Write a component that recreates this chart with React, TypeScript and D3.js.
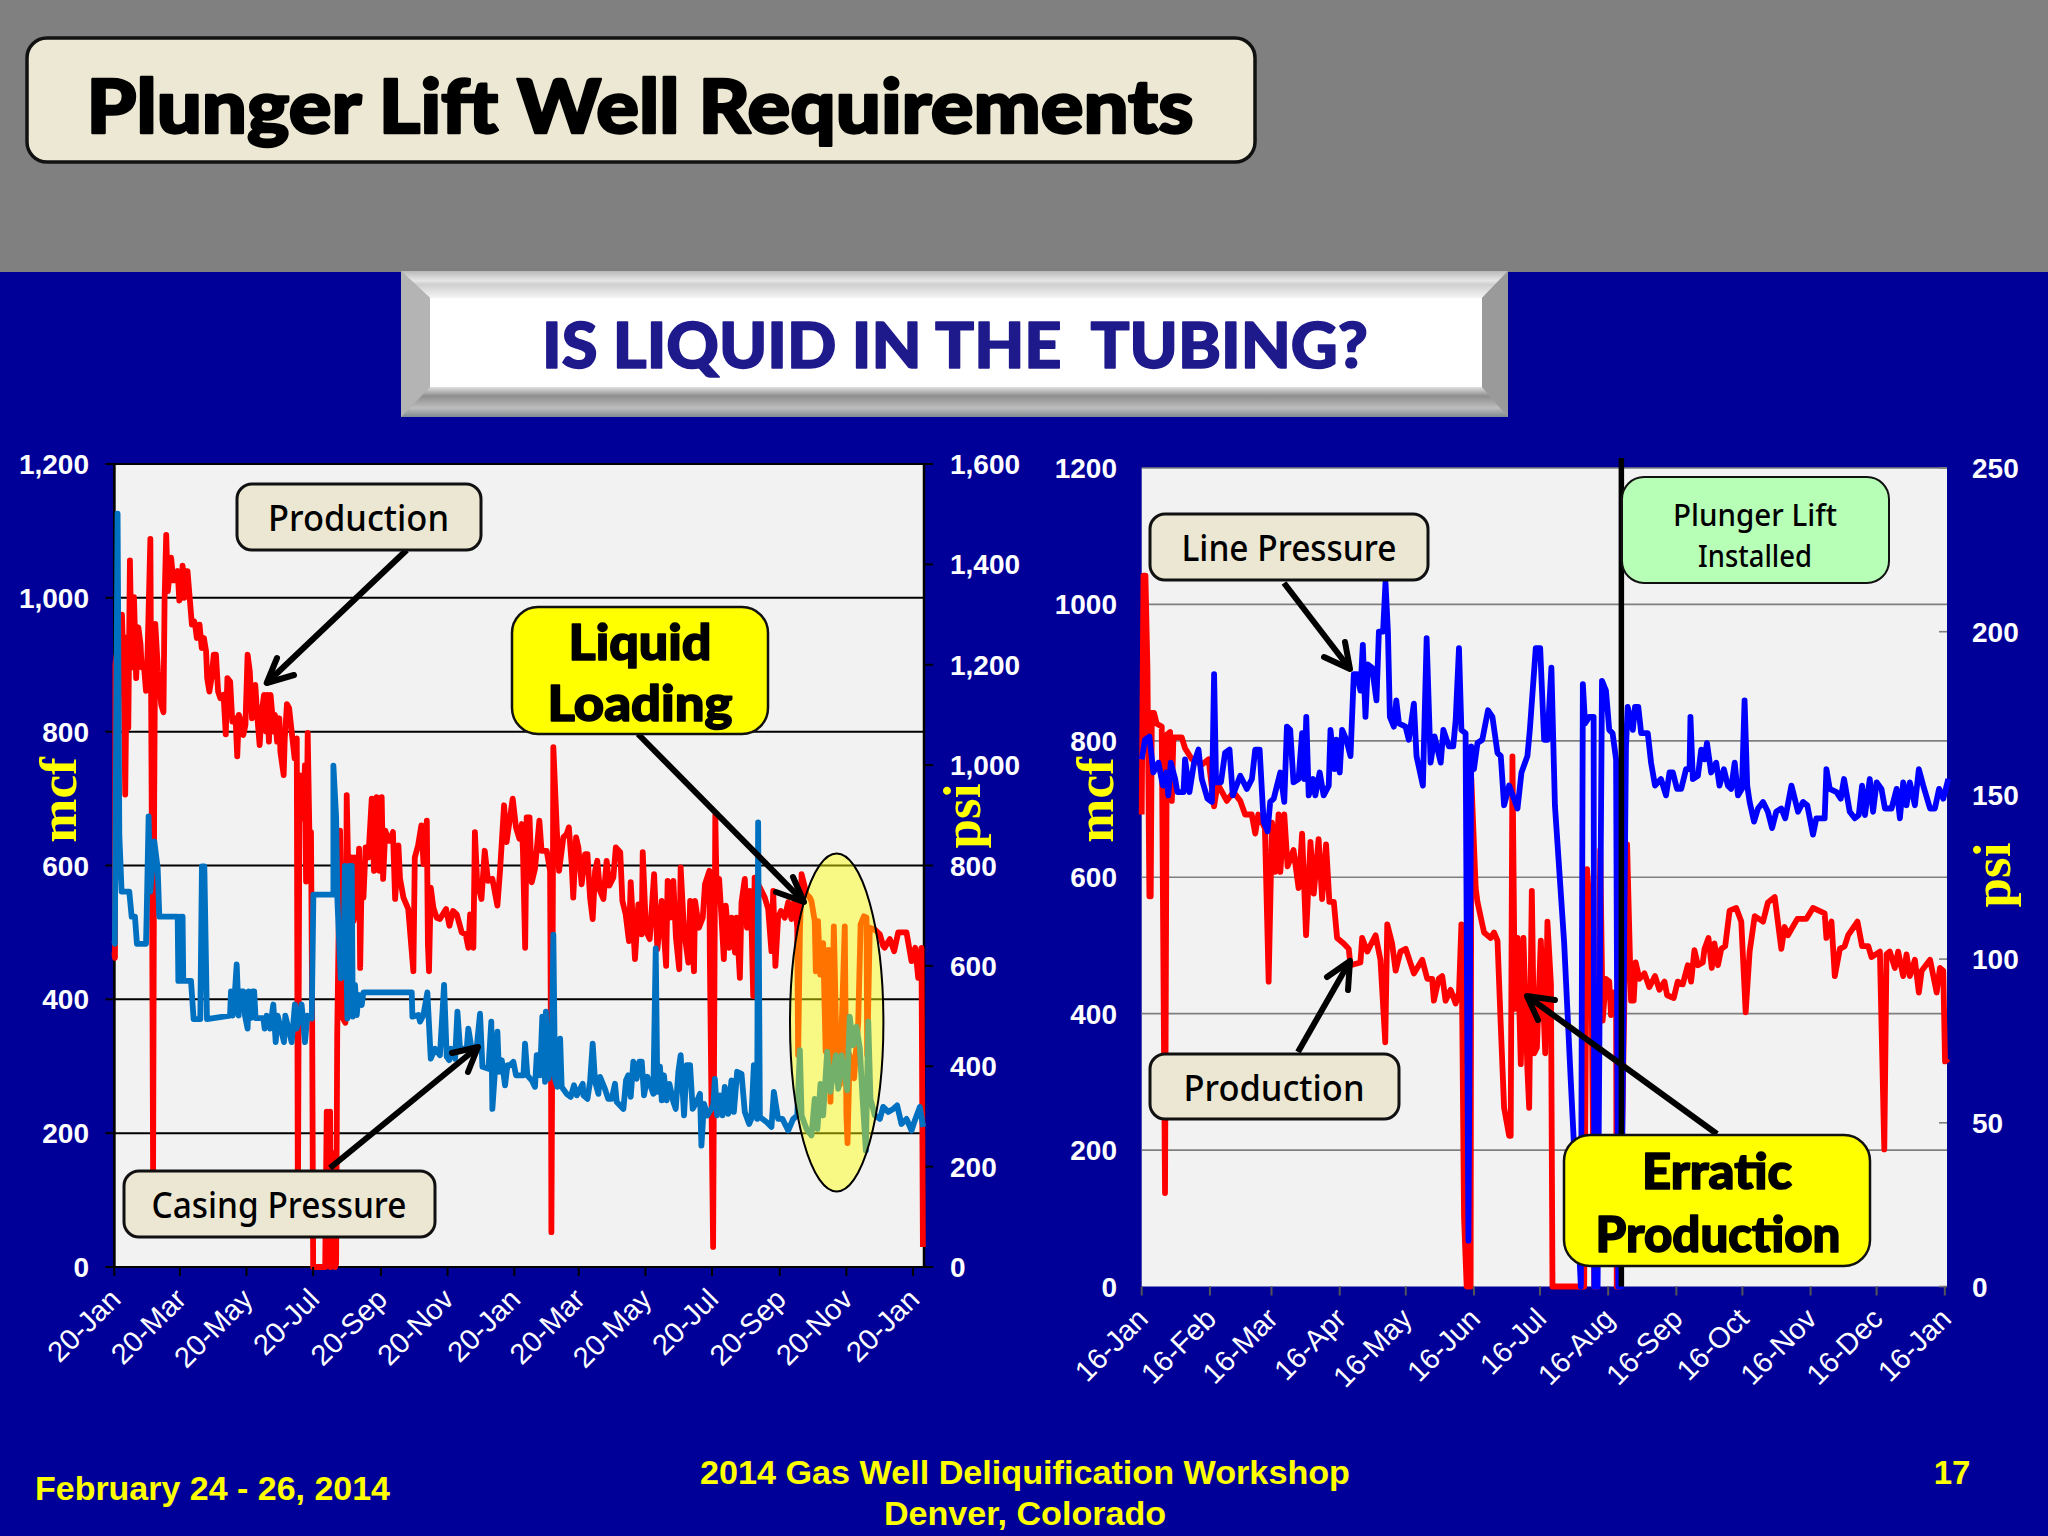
import React from "react";
import * as d3 from "d3";

type P = [number, number];

// ---- LEFT CHART DATA: [days since 20-Jan, value] ----
const leftStart = "2012-01-20";
const leftTickDates = ["2012-01-20","2012-03-20","2012-05-20","2012-07-20","2012-09-20","2012-11-20","2013-01-20","2013-03-20","2013-05-20","2013-07-20","2013-09-20","2013-11-20","2014-01-20"];
const leftMcfTicks = [0,200,400,600,800,1000,1200];
const leftPsiTicks = [0,200,400,600,800,1000,1200,1400,1600];

const leftProduction: P[] = [[0,470],[0.6,462],[1,900],[7,975],[8.5,896],[10,706],[11.6,941],[12.8,806],[14.3,1056],[16,896],[18,1001],[20,880],[22,956],[24,931],[25,896],[27,901],[29,861],[30.5,921],[33,1088],[34.5,600],[35.5,140],[36.5,700],[37.5,961],[40,890],[43,840],[45,829],[46,996],[47.5,1094],[49,1010],[52,1060],[54,1026],[56,1026],[58,1040],[59.5,996],[61,1000],[62.5,1048],[64,1000],[65.5,1040],[67,1040],[69,1000],[71,960],[73,965],[74,960],[75.5,940],[78,960],[80,925],[82,940],[84,920],[85,880],[87,860],[89,880],[91,915],[93,915],[95,860],[97,850],[100,855],[102,796],[103.5,880],[106,875],[108,815],[111,820],[112.5,763],[114,825],[117,810],[118,795],[120,810],[122,915],[124,890],[126,820],[129,870],[131,820],[133,780],[135,830],[137,855],[139,800],[140,855],[141.5,785],[143,855],[146,800],[147,825],[149,785],[151,820],[152,770],[155,735],[156,790],[158,841],[160,835],[163,790],[165,760],[167,790],[168,70],[169.5,735],[171.5,700],[172.5,670],[174.5,750],[175.5,576],[177,798],[178.5,652],[180,650],[181,400],[182,0],[193,0],[194.4,232],[196,150],[197.5,232],[198,0],[200.5,170],[202,0],[203,5],[204,347],[206.6,652],[209,372],[211.5,365],[212.7,705],[215,522],[217,612],[219,517],[220,612],[222,522],[224,625],[225,447],[226.5,597],[228,552],[230,627],[232.5,612],[235.6,700],[237.7,592],[240,702],[242.6,592],[244.7,702],[246,580],[248,652],[251,637],[252.4,637],[255,650],[257,550],[260,630],[261.5,580],[264.6,552],[269,535],[273.7,442],[275,612],[278,630],[281,660],[283,602],[286,667],[287,482],[288,442],[289.6,567],[292,537],[295,522],[298,520],[303.6,535],[306.7,510],[310,532],[313.4,527],[318,500],[321.6,497],[324,477],[325.6,527],[328.6,477],[330,650],[332,577],[336,550],[339,622],[342,577],[346,580],[350.6,540],[353,592],[356.7,690],[359,635],[364.6,700],[367.6,657],[370.7,640],[373,662],[374,620],[376,477],[377.4,672],[380,672],[382,575],[385,595],[389,667],[391,622],[395.7,622],[398.8,592],[399.7,300],[400,52],[401,400],[401.8,777],[405,652],[407,592],[411,642],[414,647],[416,657],[418.6,602],[420,552],[422.6,642],[424.7,627],[427.7,572],[430.8,617],[433,617],[435.4,552],[437.8,520],[440,592],[442,607],[444.5,562],[447.6,550],[450.6,607],[453,570],[456.7,582],[459,627],[463,620],[465,547],[468,527],[471,487],[472.6,575],[476.5,460],[479.6,542],[482.6,497],[483.6,620],[486.6,502],[490,490],[494,587],[497,475],[501,547],[505,450],[506.4,577],[508.6,522],[511.6,577],[514,492],[517,445],[518.3,597],[521.4,502],[525.4,455],[527,547],[530.5,442],[531.5,547],[535,507],[538.5,522],[540.6,572],[544.6,592],[545,467],[548,30],[550,675],[551,582],[553.5,580],[555.7,522],[557.8,460],[559.6,540],[562.7,477],[565,522],[568,470],[569.4,522],[572.5,432],[574,545],[577,580],[579,507],[581.6,562],[583,522],[584.7,405],[586,582],[590.8,567],[595.3,552],[598.4,535],[601.4,472],[603,562],[605,450],[607.5,522],[610,532],[613.6,522],[616.7,545],[619.7,520],[622.8,552],[625,507],[625.8,317],[627.4,497],[629,587],[633.5,557],[636.5,552],[638,547],[641,517],[642,442],[644,517],[646,437],[648.7,484],[651,322],[653.6,474],[655.4,247],[658.5,509],[661,317],[664,272],[668.5,509],[670,227],[671,185],[673,317],[677,282],[680.8,367],[683,512],[686,524],[688.4,522],[689,317],[691.4,507],[696,504],[700.6,497],[703.6,480],[705,477],[709.7,490],[713.7,472],[717.4,500],[725,500],[729.6,457],[733,477],[735.7,432],[738.7,477],[740,30]];

const leftCasing: P[] = [[0,650],[0.5,644],[3,1501],[4.6,861],[6.7,748],[13.7,748],[15.9,698],[18.9,698],[20.7,644],[29,644],[29.6,698],[31.4,898],[33,748],[36.6,848],[39.7,795],[41.2,698],[58,698],[58.6,570],[60.4,698],[61,570],[62.5,698],[63.1,570],[70.2,570],[72.6,494],[78.7,494],[80.2,798],[82.4,798],[84.8,494],[105.9,501],[106.8,549],[108.3,501],[110.4,549],[112,603],[113.8,501],[115,549],[118,549],[119.6,501],[122,475],[123,549],[124.8,496],[126.6,549],[128,549],[129.3,496],[136.4,496],[137.6,475],[139.4,501],[142.5,475],[145.5,523],[147.7,448],[149.5,501],[155.3,448],[156.5,501],[162.3,448],[165.3,523],[166.8,475],[171.4,523],[174.5,448],[176.6,501],[180.7,495],[182.2,742],[200.5,742],[200.5,999],[203,896],[204.2,729],[207.2,575],[209.7,582],[211,799],[213.3,495],[215,799],[217.3,799],[218.2,499],[220.3,562],[221.9,502],[223.4,542],[226.4,522],[228,547],[272.2,547],[272.8,499],[278.3,502],[279.8,489],[282.9,502],[286.5,547],[289.6,415],[293.5,435],[298,422],[301.8,562],[304.2,419],[306.4,412],[307.9,435],[311.9,415],[314,509],[316.4,435],[322.5,435],[324,475],[327,435],[331.7,439],[334.7,505],[336.9,399],[342.4,395],[345,489],[346,315],[348.5,395],[350.6,469],[352,389],[354.6,412],[357.6,362],[359.8,402],[362,402],[365.2,409],[367.6,382],[374.4,382],[375.9,445],[378,382],[382,372],[385,359],[386.6,422],[388,422],[389.6,382],[391.7,499],[394.2,369],[395,509],[397.2,375],[400.3,402],[401.8,662],[403.3,375],[405.5,359],[408,455],[409.4,359],[414,345],[417.7,339],[420.7,362],[423.2,342],[428.7,365],[429.3,342],[433,335],[435.4,369],[437.8,445],[440,369],[443,345],[444.5,379],[449,355],[452,335],[455.2,335],[458.2,365],[459.8,329],[465.9,315],[468.3,372],[470.4,382],[472.6,339],[475,409],[478,375],[480.5,409],[482.7,409],[484.8,342],[487.8,379],[493.3,345],[495.5,635],[497,349],[499.4,399],[501,332],[503,382],[505.5,332],[508,365],[511.6,329],[513.8,315],[516.2,389],[518.3,422],[521.4,302],[523.8,402],[526.9,402],[529.3,315],[533,329],[536,345],[537.3,242],[539.7,325],[542.7,302],[548.2,322],[549.6,375],[551.7,302],[554.2,342],[556.6,302],[558.7,359],[561.8,305],[564.8,372],[567,309],[570,389],[574,385],[577,309],[581,285],[583,295],[585.3,402],[588.3,295],[589.2,886],[590.8,299],[596.9,289],[601.4,279],[603.6,349],[607.5,295],[611.5,295],[616.7,272],[621.3,295],[625,302],[627.4,432],[629,302],[633.5,275],[638,262],[641,335],[643.5,275],[646.3,365],[648.7,302],[652.4,429],[655.4,349],[660.3,422],[662.5,355],[665.5,422],[670.7,352],[673,499],[676.2,442],[679.2,479],[682.3,435],[684.7,339],[687.8,232],[690,489],[692,335],[696,302],[700.6,295],[703.6,319],[708.2,309],[712.8,315],[716.4,322],[720.4,285],[725,295],[729.6,272],[732.6,292],[737.2,319],[740.2,279]];

// ---- RIGHT CHART DATA ----
const rightStart = "2013-01-16";
const rightTickDates = ["2013-01-16","2013-02-16","2013-03-16","2013-04-16","2013-05-16","2013-06-16","2013-07-16","2013-08-16","2013-09-16","2013-10-16","2013-11-16","2013-12-16","2014-01-16"];
const rightMcfTicks = [0,200,400,600,800,1000,1200];
const rightPsiTicks = [0,50,100,150,200,250];
const plungerInstallDay = 218;

const rightProduction: P[] = [[0,692],[0.8,1042],[1.7,1042],[2.6,906],[3.5,572],[4.1,572],[4.6,841],[5.6,841],[6.8,825],[9.1,821],[10.6,137],[11.4,809],[12.9,813],[13.7,712],[14.4,805],[18.2,805],[19.7,789],[22.8,773],[27.3,765],[30.4,773],[32.9,704],[34.5,737],[38.7,712],[41.7,725],[44.8,712],[47,692],[50,692],[51.6,664],[53,692],[56,672],[57.7,447],[59.2,680],[60.7,608],[62.2,692],[63,608],[64.8,692],[66.3,616],[69,640],[71.3,584],[72.9,664],[74.7,515],[76.7,652],[78.2,576],[80.4,656],[82,568],[83.8,648],[85.3,564],[87.3,564],[88.8,511],[91.8,503],[94.1,495],[94.9,471],[99.4,475],[100.2,511],[102.5,491],[106.3,515],[108.5,479],[110.7,358],[111.6,531],[113.8,503],[115.4,463],[117.6,491],[120,495],[123.7,459],[127.5,479],[129.8,451],[132,451],[132.8,419],[135,451],[136.6,455],[138.1,419],[140.4,435],[142.7,415],[144.2,431],[145.3,531],[146.5,101],[147.7,0],[149.5,0],[149.8,745],[151.8,584],[152.6,564],[155.6,519],[158.6,511],[160.1,519],[161.7,507],[163.2,382],[164.7,262],[167,221],[167.7,221],[168.5,777],[169.6,407],[170.8,511],[172.3,326],[173.5,511],[175.3,318],[176.1,262],[177.3,580],[178.4,342],[179.6,350],[181.4,507],[183.4,342],[184.4,535],[186,443],[186.7,0],[198.1,0],[201.1,0],[202.4,612],[203.4,567],[204.5,423],[205.7,0],[206.5,0],[208.4,640],[209.5,390],[211,451],[212.5,447],[213.3,398],[214.5,431],[215.6,423],[215.9,0],[217.1,0],[220.6,648],[222.4,419],[223.6,419],[224.5,475],[226.2,451],[228.5,459],[230.7,439],[233.3,455],[235.3,435],[237.6,447],[238.8,427],[241.8,423],[243.6,447],[245.9,443],[248.2,471],[249.7,447],[251.2,493],[252.8,471],[255,475],[255.8,495],[257.6,511],[259.1,467],[260.3,503],[261.9,471],[263.4,495],[265.2,499],[267.2,551],[270.2,555],[272.5,535],[274.5,402],[276.3,491],[278.6,543],[282.4,535],[284.6,563],[287.7,571],[290.7,495],[292.2,527],[293.7,515],[298,539],[302.1,539],[305.1,555],[310.4,547],[311.2,511],[313.5,535],[315,455],[317.3,495],[319.5,499],[321.1,515],[325.3,535],[327.4,499],[330.2,499],[331.7,483],[335.5,491],[337.5,201],[338.5,487],[340,491],[342.3,467],[343.8,491],[346.1,455],[347.6,487],[349.1,455],[351.4,479],[353.2,431],[354.5,463],[358.3,479],[361.3,431],[362.8,467],[364.3,463],[365.1,330],[366.6,334]];

const rightLinePressure: P[] = [[0,161],[1.5,167],[3.5,168],[5.3,157],[7.6,160],[9.6,153],[11.1,157],[12.1,150],[13.2,160],[15.2,155],[16.2,151],[19,151],[19.7,161],[21.7,151],[23.8,160],[25.8,164],[27.3,155],[29.9,149],[31.9,148],[32.9,187],[33.8,154],[36,154],[37.9,163],[39.9,164],[41.4,150],[44.8,156],[47.8,152],[50.1,155],[51.6,164],[53.6,164],[55.4,142],[57.2,139],[58.4,148],[60,149],[61.5,153],[63,157],[64.8,148],[66,171],[67.5,170],[69,154],[71.3,155],[72.9,169],[73.9,155],[74.8,174],[75.9,150],[77.9,155],[78.9,150],[80.9,157],[82.7,150],[85,153],[85.8,170],[87.6,158],[88.5,167],[90,157],[91.1,170],[93,167],[94.9,162],[96.4,187],[97.9,187],[99.4,182],[100.5,196],[101.7,174],[102.8,190],[104.7,189],[106.7,179],[107.8,200],[109.7,200],[110.8,215],[111.9,200],[112.8,174],[114.6,171],[115.7,179],[116.9,172],[119.9,171],[121.4,167],[123.7,178],[124.9,162],[127.8,153],[129.5,198],[131.3,160],[133.1,168],[135.9,160],[137.1,170],[139.6,165],[141.6,165],[142.7,173],[144.2,195],[145.3,170],[147.2,169],[148.5,14],[149.8,165],[151,158],[152.6,166],[154.8,167],[157.4,176],[159.4,174],[161.7,163],[163.2,162],[164.7,147],[167,153],[170.8,146],[172.6,157],[175.3,162],[176.4,170],[179.1,195],[181.1,195],[182.9,167],[184.4,167],[186.2,189],[187.8,147],[192,105],[195,63],[198.1,21],[199.6,0],[200.5,184],[201.5,172],[203.4,174],[205.4,174],[205.7,0],[207.2,0],[209.2,185],[211,182],[212.5,170],[214,169],[215.6,161],[216.6,0],[217.8,0],[220.1,165],[220.9,177],[223.2,170],[224.2,177],[225.7,177],[227,169],[230,169],[231.5,160],[233.3,153],[236,155],[238.3,150],[239.9,157],[241.4,157],[243.3,152],[245.2,152],[247.4,158],[249,158],[249.4,174],[250.5,155],[252.8,156],[254.3,164],[255.8,161],[256.9,166],[258.8,157],[261.1,160],[262.6,153],[264.6,158],[266.4,153],[267.9,152],[269.5,160],[271,150],[272.8,152],[274,179],[275.2,153],[276.3,148],[278.3,142],[280.1,146],[282.4,148],[284.6,145],[286.5,140],[288.4,145],[290.7,146],[292.5,143],[295.3,153],[298.3,145],[300.6,148],[302.5,147],[305.1,138],[306.6,143],[310.4,143],[311.2,158],[312.7,152],[315.8,151],[317.7,149],[319.2,155],[321.8,145],[324.1,143],[325.9,144],[327.4,153],[328.7,144],[330.9,155],[332.4,145],[334,154],[336.2,152],[337.8,146],[340.8,146],[343.1,152],[344.6,143],[346.1,154],[347.6,147],[349.1,154],[351.4,147],[353.2,158],[355.2,153],[358.3,146],[360.5,146],[362.4,152],[364.3,149],[366.6,155]];

// ---- LAYOUT / STYLE ----
const W = 2048, H = 1536;
const NAVY = "#000099", RED = "#FF0000", CASING = "#0070C0", LINEP = "#0000FF", YEL = "#FFFF00";
const ARIAL = "'Liberation Sans', Arial, sans-serif";
const SERIF = "'Liberation Serif', serif";
const HEAVY = "Lato, 'Noto Sans', sans-serif";
const SOFT = "'Noto Sans', 'Open Sans', sans-serif";
const LINE_W = 5.8;

const L = { x0: 114.3, x1: 924, y0: 1267, y1: 464 };
const R = { x0: 1141.7, x1: 1947, y0: 1286.5, y1: 468 };

const dayScale = (start: string, days: number, x0: number, x1: number) => {
  const s = new Date(start + "T00:00:00Z");
  return d3.scaleUtc().domain([s, d3.utcDay.offset(s, days)]).range([x0, x1]);
};
const toDate = (start: string, d: number) => new Date(new Date(start + "T00:00:00Z").getTime() + d * 864e5);
const fmt = d3.utcFormat("%-d-%b");

const xL = dayScale(leftStart, 741, L.x0, L.x1);
const xR = dayScale(rightStart, 366.7, R.x0, R.x1);
const yLm = d3.scaleLinear().domain([0, 1200]).range([L.y0, L.y1]);
const yLp = d3.scaleLinear().domain([0, 1600]).range([L.y0, L.y1]);
const yRm = d3.scaleLinear().domain([0, 1200]).range([R.y0, R.y1]);
const yRp = d3.scaleLinear().domain([0, 250]).range([R.y0, R.y1]);

const mkLine = (start: string, x: any, y: any) =>
  d3.line<P>().x(p => x(toDate(start, p[0]))).y(p => y(p[1])).curve(d3.curveLinear);

const Box = ({ x, y, w, h, fill, r = 15, sw = 3 }: any) => (
  <rect x={x} y={y} width={w} height={h} rx={r} ry={r} fill={fill} stroke="#111" strokeWidth={sw} />
);
const Txt = ({ x, y, w, size, fam = SOFT, weight = 500, fill = "#000", thick = 0, children }: any) => (
  <text x={x} y={y} textAnchor="middle" fontFamily={fam} fontSize={size} fontWeight={weight} fill={fill}
    stroke={thick ? fill : "none"} strokeWidth={thick} strokeLinejoin="round"
    style={{ whiteSpace: "pre" }} textLength={w} lengthAdjust="spacingAndGlyphs">{children}</text>
);
const Arrow = ({ from, tip, b1, b2, sw = 6 }: any) => (
  <g fill="none" stroke="#000" strokeWidth={sw} strokeLinecap="round" strokeLinejoin="round">
    <line x1={from[0]} y1={from[1]} x2={tip[0]} y2={tip[1]} strokeLinecap="butt" />
    <polyline points={`${b1[0]},${b1[1]} ${tip[0]},${tip[1]} ${b2[0]},${b2[1]}`} />
  </g>
);

const XLabels = ({ dates, x, y0, tickColor }: any) => (
  <g>
    {dates.map((s: string) => {
      const d = new Date(s + "T00:00:00Z");
      const px = x(d);
      return (
        <g key={s}>
          <line x1={px} x2={px} y1={y0} y2={y0 + 9} stroke={tickColor} strokeWidth={2} />
          <text transform={`translate(${px + 8},${y0 + 34}) rotate(-45)`} textAnchor="end" fontFamily={ARIAL}
            fontSize={29} fill="#fff">{fmt(d)}</text>
        </g>
      );
    })}
  </g>
);

const YLabels = ({ ticks, y, x, anchor, format }: any) => (
  <g>
    {ticks.map((t: number) => (
      <text key={t} x={x} y={y(t) + 10} textAnchor={anchor} fontFamily={ARIAL} fontWeight={700} fontSize={28} fill="#fff">{format(t)}</text>
    ))}
  </g>
);

export default function App() {
  const comma = d3.format(",");
  const plain = d3.format("d");
  const lineLm = mkLine(leftStart, xL, yLm);
  const lineLp = mkLine(leftStart, xL, yLp);
  const lineRm = mkLine(rightStart, xR, yRm);
  const lineRp = mkLine(rightStart, xR, yRp);
  return (
    <svg width={W} height={H} viewBox={`0 0 ${W} ${H}`} style={{ position: "absolute", left: 0, top: 0, display: "block" }}>
      <defs>
        <linearGradient id="bevTop" x1="0" y1="0" x2="0" y2="1">
          <stop offset="0" stopColor="#b9b9b9" /><stop offset="0.35" stopColor="#e6e6e6" /><stop offset="0.5" stopColor="#cfcfcf" /><stop offset="1" stopColor="#f4f4f4" />
        </linearGradient>
        <linearGradient id="bevBot" x1="0" y1="0" x2="0" y2="1">
          <stop offset="0" stopColor="#e0e0e0" /><stop offset="0.3" stopColor="#8e8e8e" /><stop offset="0.7" stopColor="#bdbdbd" /><stop offset="1" stopColor="#7f8a90" />
        </linearGradient>
      </defs>
      <rect width={W} height={H} fill={NAVY} />
      <rect width={W} height={272} fill="#808080" />
      <Box x={27} y={38} w={1228} h={124} fill="#ECE8D3" r={20} sw={3.5} />
      <Txt x={640} y={133} w={1107} size={74} fam={HEAVY} weight={900} thick={2.4}>Plunger Lift Well Requirements</Txt>

      {/* bevel frame */}
      <rect x={401} y={271} width={1107} height={146} fill="#a8a8a8" />
      <polygon points="401,271 1508,271 1482,298 430,298" fill="url(#bevTop)" />
      <polygon points="401,417 1508,417 1482,387 430,387" fill="url(#bevBot)" />
      <polygon points="401,271 430,298 430,387 401,417" fill="#b4b4b4" />
      <polygon points="1508,271 1482,298 1482,387 1508,417" fill="#9a9a9a" />
      <rect x={430} y={298} width={1052} height={89} fill="#fff" />
      <Txt x={955} y={368} w={826} size={62} fam={HEAVY} weight={900} fill="#1F1A8C" thick={1.6}>IS LIQUID IN THE  TUBING?</Txt>

      {/* LEFT CHART */}
      <rect x={L.x0} y={L.y1} width={L.x1 - L.x0} height={L.y0 - L.y1} fill="#F2F2F2" stroke="#000" strokeWidth={2} />
      {leftMcfTicks.map(t => (
        <g key={t}>
          <line x1={L.x0} x2={L.x1} y1={yLm(t)} y2={yLm(t)} stroke="#000" strokeWidth={2} />
          <line x1={L.x0 - 9} x2={L.x0} y1={yLm(t)} y2={yLm(t)} stroke="#000" strokeWidth={2} />
        </g>
      ))}
      {leftPsiTicks.map(t => (
        <line key={t} x1={L.x1} x2={L.x1 + 9} y1={yLp(t)} y2={yLp(t)} stroke="#000" strokeWidth={2} />
      ))}
      <line x1={L.x0} x2={L.x0} y1={L.y1} y2={L.y0} stroke="#000" strokeWidth={2.5} />
      <line x1={L.x1} x2={L.x1} y1={L.y1} y2={L.y0} stroke="#000" strokeWidth={2.5} />
      <path d={lineLm(leftProduction) || ""} fill="none" stroke={RED} strokeWidth={LINE_W} strokeLinejoin="round" />
      <path d={lineLp(leftCasing) || ""} fill="none" stroke={CASING} strokeWidth={LINE_W} strokeLinejoin="round" />
      <ellipse cx={836.7} cy={1022.5} rx={46.7} ry={169} fill={YEL} fillOpacity={0.45} stroke="#000" strokeWidth={2} />
      <XLabels dates={leftTickDates} x={xL} y0={L.y0} tickColor="#000" />
      <YLabels ticks={leftMcfTicks} y={yLm} x={89} anchor="end" format={comma} />
      <YLabels ticks={leftPsiTicks} y={yLp} x={950} anchor="start" format={comma} />
      <text transform="translate(76,800) rotate(-90)" textAnchor="middle" fontFamily={SERIF} fontWeight={700} fontSize={53} fill={YEL}>mcf</text>
      <text transform="translate(980,816) rotate(-90)" textAnchor="middle" fontFamily={SERIF} fontWeight={700} fontSize={53} fill={YEL}>psi</text>

      <Arrow from={[406.7, 550]} tip={[266.7, 683]} b1={[277, 658]} b2={[294, 675]} />
      <Box x={237} y={484} w={244} h={66} fill="#EBE7D3" />
      <Txt x={358.5} y={531} w={181} size={36}>Production</Txt>
      <Arrow from={[330, 1168]} tip={[478, 1047]} b1={[452, 1053]} b2={[468, 1072]} />
      <Box x={124} y={1171} w={311} h={66} fill="#EBE7D3" />
      <Txt x={279} y={1218} w={255} size={36}>Casing Pressure</Txt>
      <Arrow from={[638, 734]} tip={[804, 902]} b1={[793, 877]} b2={[776, 892]} />
      <Box x={512} y={607} w={256} h={127} fill={YEL} r={26} sw={2.5} />
      <Txt x={640} y={660} w={143} size={50} fam={HEAVY} weight={900} thick={1.6}>Liquid</Txt>
      <Txt x={640} y={721} w={185} size={50} fam={HEAVY} weight={900} thick={1.6}>Loading</Txt>

      {/* RIGHT CHART */}
      <rect x={R.x0} y={R.y1} width={R.x1 - R.x0} height={R.y0 - R.y1} fill="#F2F2F2" />
      {rightMcfTicks.slice(1).map(t => (
        <line key={t} x1={R.x0} x2={R.x1} y1={yRm(t)} y2={yRm(t)} stroke="#7f7f7f" strokeWidth={1.6} />
      ))}
      {rightPsiTicks.map(t => (
        <line key={t} x1={R.x1 - 8} x2={R.x1} y1={yRp(t)} y2={yRp(t)} stroke="#7f7f7f" strokeWidth={1.6} />
      ))}
      <path d={lineRm(rightProduction) || ""} fill="none" stroke={RED} strokeWidth={LINE_W} strokeLinejoin="round" />
      <path d={lineRp(rightLinePressure) || ""} fill="none" stroke={LINEP} strokeWidth={LINE_W} strokeLinejoin="round" />
      <line x1={xR(toDate(rightStart, plungerInstallDay))} x2={xR(toDate(rightStart, plungerInstallDay))} y1={458} y2={R.y0} stroke="#000" strokeWidth={5.5} />
      <XLabels dates={rightTickDates} x={xR} y0={R.y0} tickColor="#555" />
      <YLabels ticks={rightMcfTicks} y={yRm} x={1117} anchor="end" format={plain} />
      <YLabels ticks={rightPsiTicks} y={yRp} x={1972} anchor="start" format={plain} />
      <text transform="translate(1113,800) rotate(-90)" textAnchor="middle" fontFamily={SERIF} fontWeight={700} fontSize={53} fill={YEL}>mcf</text>
      <text transform="translate(2010,875) rotate(-90)" textAnchor="middle" fontFamily={SERIF} fontWeight={700} fontSize={53} fill={YEL}>psi</text>

      <Arrow from={[1284, 583]} tip={[1350, 669]} b1={[1345, 642]} b2={[1324, 657]} />
      <Box x={1150} y={514} w={278} h={66} fill="#EBE7D3" />
      <Txt x={1289} y={561} w={215} size={36}>Line Pressure</Txt>
      <Arrow from={[1298, 1052]} tip={[1350, 961]} b1={[1327, 977]} b2={[1348, 990]} />
      <Box x={1150} y={1054} w={249} h={65} fill="#EBE7D3" />
      <Txt x={1274} y={1101} w={181} size={36}>Production</Txt>
      <Box x={1622} y={477} w={267} h={106} fill="#B7FFB7" r={22} sw={2} />
      <Txt x={1755} y={526} w={164} size={31}>Plunger Lift</Txt>
      <Txt x={1755} y={567} w={114} size={31}>Installed</Txt>
      <Arrow from={[1717, 1134]} tip={[1527, 996]} b1={[1555, 1000]} b2={[1538, 1020]} />
      <Box x={1564} y={1135} w={306} h={131} fill={YEL} r={26} sw={2.5} />
      <Txt x={1717} y={1189} w={150} size={50} fam={HEAVY} weight={900} thick={1.6}>Erratic</Txt>
      <Txt x={1718} y={1252} w={245} size={50} fam={HEAVY} weight={900} thick={1.6}>Production</Txt>

      {/* FOOTER */}
      <text x={35} y={1500} fontFamily={ARIAL} fontWeight={700} fontSize={33} fill={YEL} textLength={355} lengthAdjust="spacingAndGlyphs">February 24 - 26, 2014</text>
      <text x={1025} y={1484} textAnchor="middle" fontFamily={ARIAL} fontWeight={700} fontSize={33} fill={YEL} textLength={650} lengthAdjust="spacingAndGlyphs">2014 Gas Well Deliquification Workshop</text>
      <text x={1025} y={1525} textAnchor="middle" fontFamily={ARIAL} fontWeight={700} fontSize={33} fill={YEL} textLength={282} lengthAdjust="spacingAndGlyphs">Denver, Colorado</text>
      <text x={1952} y={1484} textAnchor="middle" fontFamily={ARIAL} fontWeight={700} fontSize={33} fill={YEL}>17</text>
    </svg>
  );
}
